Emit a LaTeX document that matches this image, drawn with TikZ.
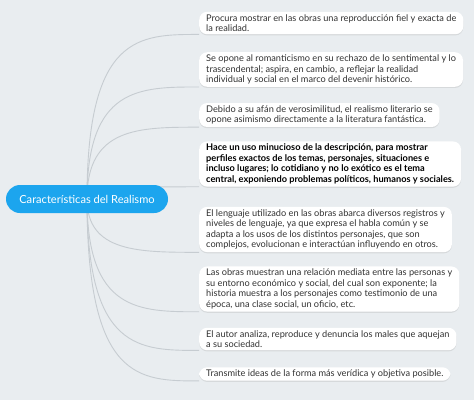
\documentclass[tikz,border=0pt]{standalone}
\usepackage{fontspec}
\setmainfont{Lato}
\usetikzlibrary{backgrounds,shadows}

\definecolor{canvas}{RGB}{233,237,240}
\definecolor{rootblue}{RGB}{28,165,238}
\definecolor{branchgray}{RGB}{198,204,209}
\definecolor{notetext}{RGB}{50,50,50}

\tikzset{
  root/.style={fill=rootblue, text=white, rounded corners=14pt,
    minimum height=28pt, minimum width=162pt,
    font=\fontsize{11.1}{13}\selectfont},
  note/.style={fill=white, text=notetext, rounded corners=8pt, anchor=west,
    align=left, inner xsep=7pt, inner ysep=2.5pt,
    font=\fontsize{9.2}{10.6}\selectfont,
    drop shadow={shadow xshift=0pt, shadow yshift=-1.2pt, opacity=0.18}},
  branch/.style={draw=branchgray, line width=0.9pt}
}

\begin{document}
\begin{tikzpicture}[x=1pt,y=-1pt]
\useasboundingbox (0,0) rectangle (474,400);

% Central topic
\node[root] (realismo) at (87,199) {Características del Realismo};

% Notes
\node[note] (fiel) at (199,23) {Procura mostrar en las obras una reproducción fiel y exacta de\\la realidad.};
\node[note] (romant) at (199,69.5) {Se opone al romanticismo en su rechazo de lo sentimental y lo\\trascendental; aspira, en cambio, a reflejar la realidad\\individual y social en el marco del devenir histórico.};
\node[note] (verosim) at (199,115) {Debido a su afán de verosimilitud, el realismo literario se\\opone asimismo directamente a la literatura fantástica.};
\node[note, text=black, font=\fontsize{9.2}{10.6}\selectfont\bfseries] (descrip) at (199,164) {Hace un uso minucioso de la descripción, para mostrar\\perfiles exactos de los temas, personajes, situaciones e\\incluso lugares; lo cotidiano y no lo exótico es el tema\\central, exponiendo problemas políticos, humanos y sociales.};
\node[note] (lenguaje) at (199,229.5) {El lenguaje utilizado en las obras abarca diversos registros y\\niveles de lenguaje, ya que expresa el habla común y se\\adapta a los usos de los distintos personajes, que son\\complejos, evolucionan e interactúan influyendo en otros.};
\node[note] (entorno) at (199,289) {Las obras muestran una relación mediata entre las personas y\\su entorno económico y social, del cual son exponente; la\\historia muestra a los personajes como testimonio de una\\época, una clase social, un oficio, etc.};
\node[note] (autor) at (199,339) {El autor analiza, reproduce y denuncia los males que aquejan\\a su sociedad.};
\node[note] (ideas) at (199,374) {Transmite ideas de la forma más verídica y objetiva posible.};

% Background and branches
\begin{scope}[on background layer]
\fill[canvas] (0,0) rectangle (474,400);
\foreach \n in {fiel,romant,verosim,descrip,lenguaje,entorno,autor,ideas}
  \draw[branch] (realismo.center) .. controls (realismo.center |- \n.south west) and ([xshift=-60pt]\n.south west) .. (\n.south west);
\end{scope}
\end{tikzpicture}
\end{document}
